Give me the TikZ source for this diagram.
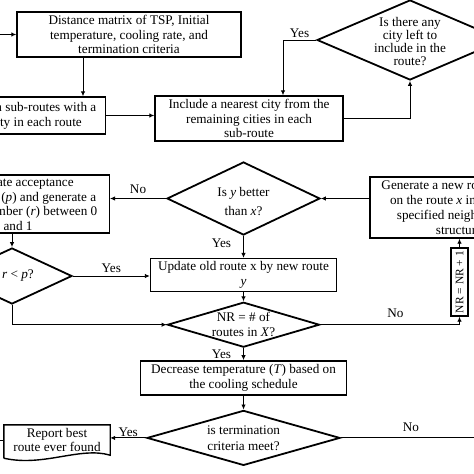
\documentclass[tikz,border=0pt]{standalone}
\usepackage{fontspec}
\setmainfont{Liberation Serif}
\usetikzlibrary{positioning,arrows.meta,shapes.geometric,calc}

\begin{document}
\begin{tikzpicture}[x=1pt,y=-1pt,
  font=\fontsize{13.2}{14.7}\selectfont,
  box/.style={draw,line width=1.4pt,align=center,inner sep=0pt},
  sidebox/.style={draw,line width=1.4pt,align=center,inner ysep=0pt,anchor=east},
  outline/.style={draw,line width=1.4pt},
  decision/.style={draw,diamond,line width=1.8pt,inner sep=0pt},
  dtext/.style={align=center,inner sep=0pt,font=\fontsize{13.2}{13}\selectfont},
  flow/.style={-{Latex[length=5pt,width=4.5pt]},line width=0.9pt},
  link/.style={line width=0.9pt},
  ans/.style={inner sep=2pt},
]
\useasboundingbox (0,0) rectangle (474,474);
\clip (0,0) rectangle (474,474);

% set-up of the routes
\node[box,minimum width=224pt,minimum height=45pt] (dist) at (129,34.5) {Distance matrix of TSP, Initial\\temperature, cooling rate, and\\termination criteria};
\node[sidebox,inner xsep=9pt,minimum height=37pt] (init) at (106,115.5) {Set a sub-routes with a\\city in each route};
\node[box,minimum width=188pt,minimum height=45pt] (incl) at (249,118.5) {Include a nearest city from the\\remaining cities in each\\sub-route};
\node[decision,minimum width=186pt,minimum height=80pt,label={[dtext,yshift=-2pt]center:Is there any\\city left to\\include in the\\route?}] (cityleft) at (410,40) {};

% annealing loop
\node[decision,minimum width=153pt,minimum height=73pt,label={[dtext,yshift=-3pt]center:Is \textit{y} better\\[6pt]than \textit{x}?}] (better) at (243.5,198.5) {};
\node[box,minimum width=178pt,minimum height=61pt] (gen) at (459,207.5) {Generate a new route \textit{y} based\\on the route \textit{x} in the given\\specified neighborhood\\structure};
\node[sidebox,inner xsep=12pt,minimum height=58pt] (accept) at (110,204) {Calculate acceptance\\probability (\textit{p}) and generate a\\random number (\textit{r}) between 0\\and 1};
\node[decision,minimum width=120pt,minimum height=56pt,label={[dtext,xshift=6pt]center:\textit{r} < \textit{p}?}] (rp) at (12,276) {};
\node[box,minimum width=186pt,minimum height=33pt,below=22pt of better] (upd) {Update old route x by new route\\\textit{y}};
\node[decision,minimum width=152pt,minimum height=45pt,below=9pt of upd,label={[dtext,font=\fontsize{13.2}{14.7}\selectfont]center:NR = \# of\\routes in \textit{X}?}] (nr) {};
\node[box,rotate=90,minimum width=68pt,minimum height=17pt,font=\fontsize{11.5}{13}\selectfont] (incr) at (459.5,282) {NR = NR + 1};
\node[box,minimum width=206pt,minimum height=34pt,below=12pt of nr] (dec) {Decrease temperature (\textit{T}) based on\\the cooling schedule};
\node[decision,minimum width=193pt,minimum height=55pt,below=14pt of dec,label={[dtext]center:is termination\\[3pt]criteria meet?}] (term) {};
\node[minimum width=106pt,minimum height=30pt,inner sep=0pt,align=center] (report) at (57,440) {Report best\\route ever found};
\draw[outline] ($(report.south west)+(0,3)$) -- (report.north west) -- (report.north east) -- (report.south east)
  .. controls ($(report.south east)+(-30,-9)$) and ($(report.south west)+(40,12)$) .. ($(report.south west)+(0,3)$);

\coordinate (start) at (-10,34.5);
\coordinate (stop) at (-10,440);
\coordinate (back) at (490,440);

\draw[flow] (start) -- (dist);
\draw[flow] ([xshift=-46pt]dist.south) -- ([xshift=-46pt]dist.south |- init.north);
\draw[flow] (init.east) -- (init.east -| incl.west);
\draw[flow] (incl.east) -| (cityleft.south);
\draw[flow] (cityleft.west) -| node[ans,pos=0.25,above]{Yes} ($(incl.north)+(34,0)$);
\draw[flow] (gen.west |- better.east) -- (better.east);
\draw[flow] (better.west) -- node[ans,above=2pt]{No} (better.west -| accept.east);
\draw[flow] (better.south) -- node[ans,left=10pt,pos=0.35]{Yes} (better.south |- upd.north);
\draw[flow] (rp.north |- accept.south) -- (rp.north);
\draw[flow] (rp.east) -- node[ans,above=1pt]{Yes} (rp.east -| upd.west);
\draw[flow] (rp.south) |- (nr.west);
\draw[flow] (nr.north |- upd.south) -- (nr.north);
\draw[flow] (nr.east) -| node[ans,pos=0.27,above=5pt]{No} (incr.west);
\draw[flow] (incr.east) -- (incr.east |- gen.south);
\draw[flow] (nr.south) -- node[ans,left=10pt]{Yes} (nr.south |- dec.north);
\draw[flow] (term.north |- dec.south) -- (term.north);
\draw[flow] (term.west) -- node[ans,above=-1pt]{Yes} (term.west -| report.east);
\draw[flow] (report.west) -- (report.west -| stop);
\draw[link] (term.east) -- node[ans,pos=0.47,above=4pt]{No} (term.east -| back);
\end{tikzpicture}
\end{document}
